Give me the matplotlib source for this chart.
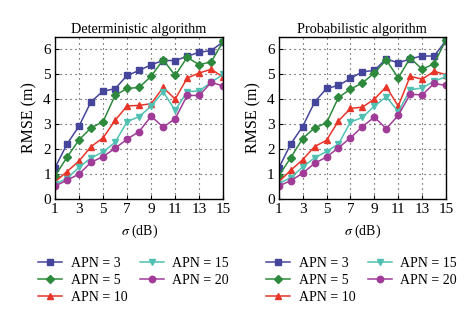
import numpy as np
import matplotlib.pyplot as plt

plt.rcParams['font.family'] = ['Liberation Serif', 'DejaVu Serif']
plt.rcParams['mathtext.fontset'] = 'stix'

sigma = np.arange(1, 16)
apn_labels = ['APN = 3', 'APN = 5', 'APN = 10', 'APN = 15', 'APN = 20']

# RMSE values for the deterministic algorithm
det_apn3 = [1.25, 2.2, 2.92, 3.9, 4.32, 4.42, 4.95, 5.15, 5.38, 5.55, 5.55, 5.72, 5.88, 5.95, 6.3]
det_apn5 = [0.92, 1.67, 2.37, 2.85, 3.1, 4.15, 4.43, 4.47, 4.92, 5.58, 4.95, 5.68, 5.38, 5.5, 6.32]
det_apn10 = [0.68, 1.1, 1.52, 2.1, 2.45, 3.15, 3.73, 3.75, 3.82, 4.47, 4.0, 4.85, 5.05, 5.2, 4.88]
det_apn15 = [0.6, 0.82, 1.27, 1.65, 1.88, 2.27, 3.1, 3.3, 3.72, 4.3, 3.55, 4.3, 4.33, 4.68, 5.0]
det_apn20 = [0.52, 0.75, 1.0, 1.47, 1.7, 2.03, 2.4, 2.7, 3.32, 2.88, 3.22, 4.15, 4.15, 4.67, 4.53]

# RMSE values for the probabilistic algorithm
prob_apn3 = [1.23, 2.2, 2.9, 3.88, 4.43, 4.55, 4.83, 5.1, 5.15, 5.62, 5.45, 5.62, 5.73, 5.73, 6.35]
prob_apn5 = [0.92, 1.65, 2.42, 2.85, 3.05, 4.07, 4.4, 4.65, 5.05, 5.57, 4.85, 5.65, 5.2, 5.42, 6.38]
prob_apn10 = [0.68, 1.15, 1.57, 2.1, 2.35, 3.13, 3.63, 3.68, 4.0, 4.5, 3.72, 4.92, 4.8, 5.12, 4.98]
prob_apn15 = [0.62, 0.85, 1.28, 1.65, 1.9, 2.2, 3.08, 3.27, 3.72, 4.1, 3.5, 4.38, 4.45, 4.72, 4.9]
prob_apn20 = [0.52, 0.73, 1.03, 1.43, 1.68, 2.05, 2.45, 2.9, 3.28, 2.82, 3.35, 4.2, 4.17, 4.63, 4.55]

colors = ['#45459c', '#2d8a3c', '#e8352a', '#4fc0b2', '#a03c98']
markers = ['s', 'D', '^', 'v', 'o']
msizes = [4, 4, 4.8, 4.8, 4.6]


def draw_panel(ax, series, title, legend_x):
    for vals, lab, c, m, ms in zip(series, apn_labels, colors, markers, msizes):
        ax.plot(sigma, vals, color=c, marker=m, markersize=ms, linewidth=1.1,
                label=lab)
    ax.set_xlim(1, 15)
    ax.set_ylim(0, 6.5)
    ax.set_xticks(np.arange(1, 16, 2))
    ax.set_yticks(np.arange(0, 7, 1))
    ax.grid(True, linestyle=(0, (1, 3.5)), color='#333333', linewidth=0.8)
    ax.tick_params(direction='in', labelsize=11, length=3, pad=3)
    ax.set_title(title, fontsize=10.2, pad=3)
    ax.set_xlabel(r'$\sigma$ (dB)', fontsize=10, labelpad=5)
    ax.set_ylabel('RMSE (m)', fontsize=11.5, labelpad=4)
    for s in ax.spines.values():
        s.set_linewidth(1.0)
    ax.legend(ncol=2, loc='upper left', bbox_to_anchor=(legend_x, 0.205),
              bbox_transform=ax.figure.transFigure,
              frameon=False, fontsize=10, handlelength=1.75, columnspacing=0.9,
              labelspacing=0.3, handletextpad=0.6, borderaxespad=0, borderpad=0)


fig = plt.figure(figsize=(4.74, 3.23), dpi=100)
ax1 = fig.add_axes([0.116, 0.384, 0.355, 0.502])
ax2 = fig.add_axes([0.588, 0.384, 0.353, 0.502])

draw_panel(ax1, [det_apn3, det_apn5, det_apn10, det_apn15, det_apn20],
           'Deterministic algorithm', 0.08)
draw_panel(ax2, [prob_apn3, prob_apn5, prob_apn10, prob_apn15, prob_apn20],
           'Probabilistic algorithm', 0.561)

fig.savefig('out.png', dpi=100)
